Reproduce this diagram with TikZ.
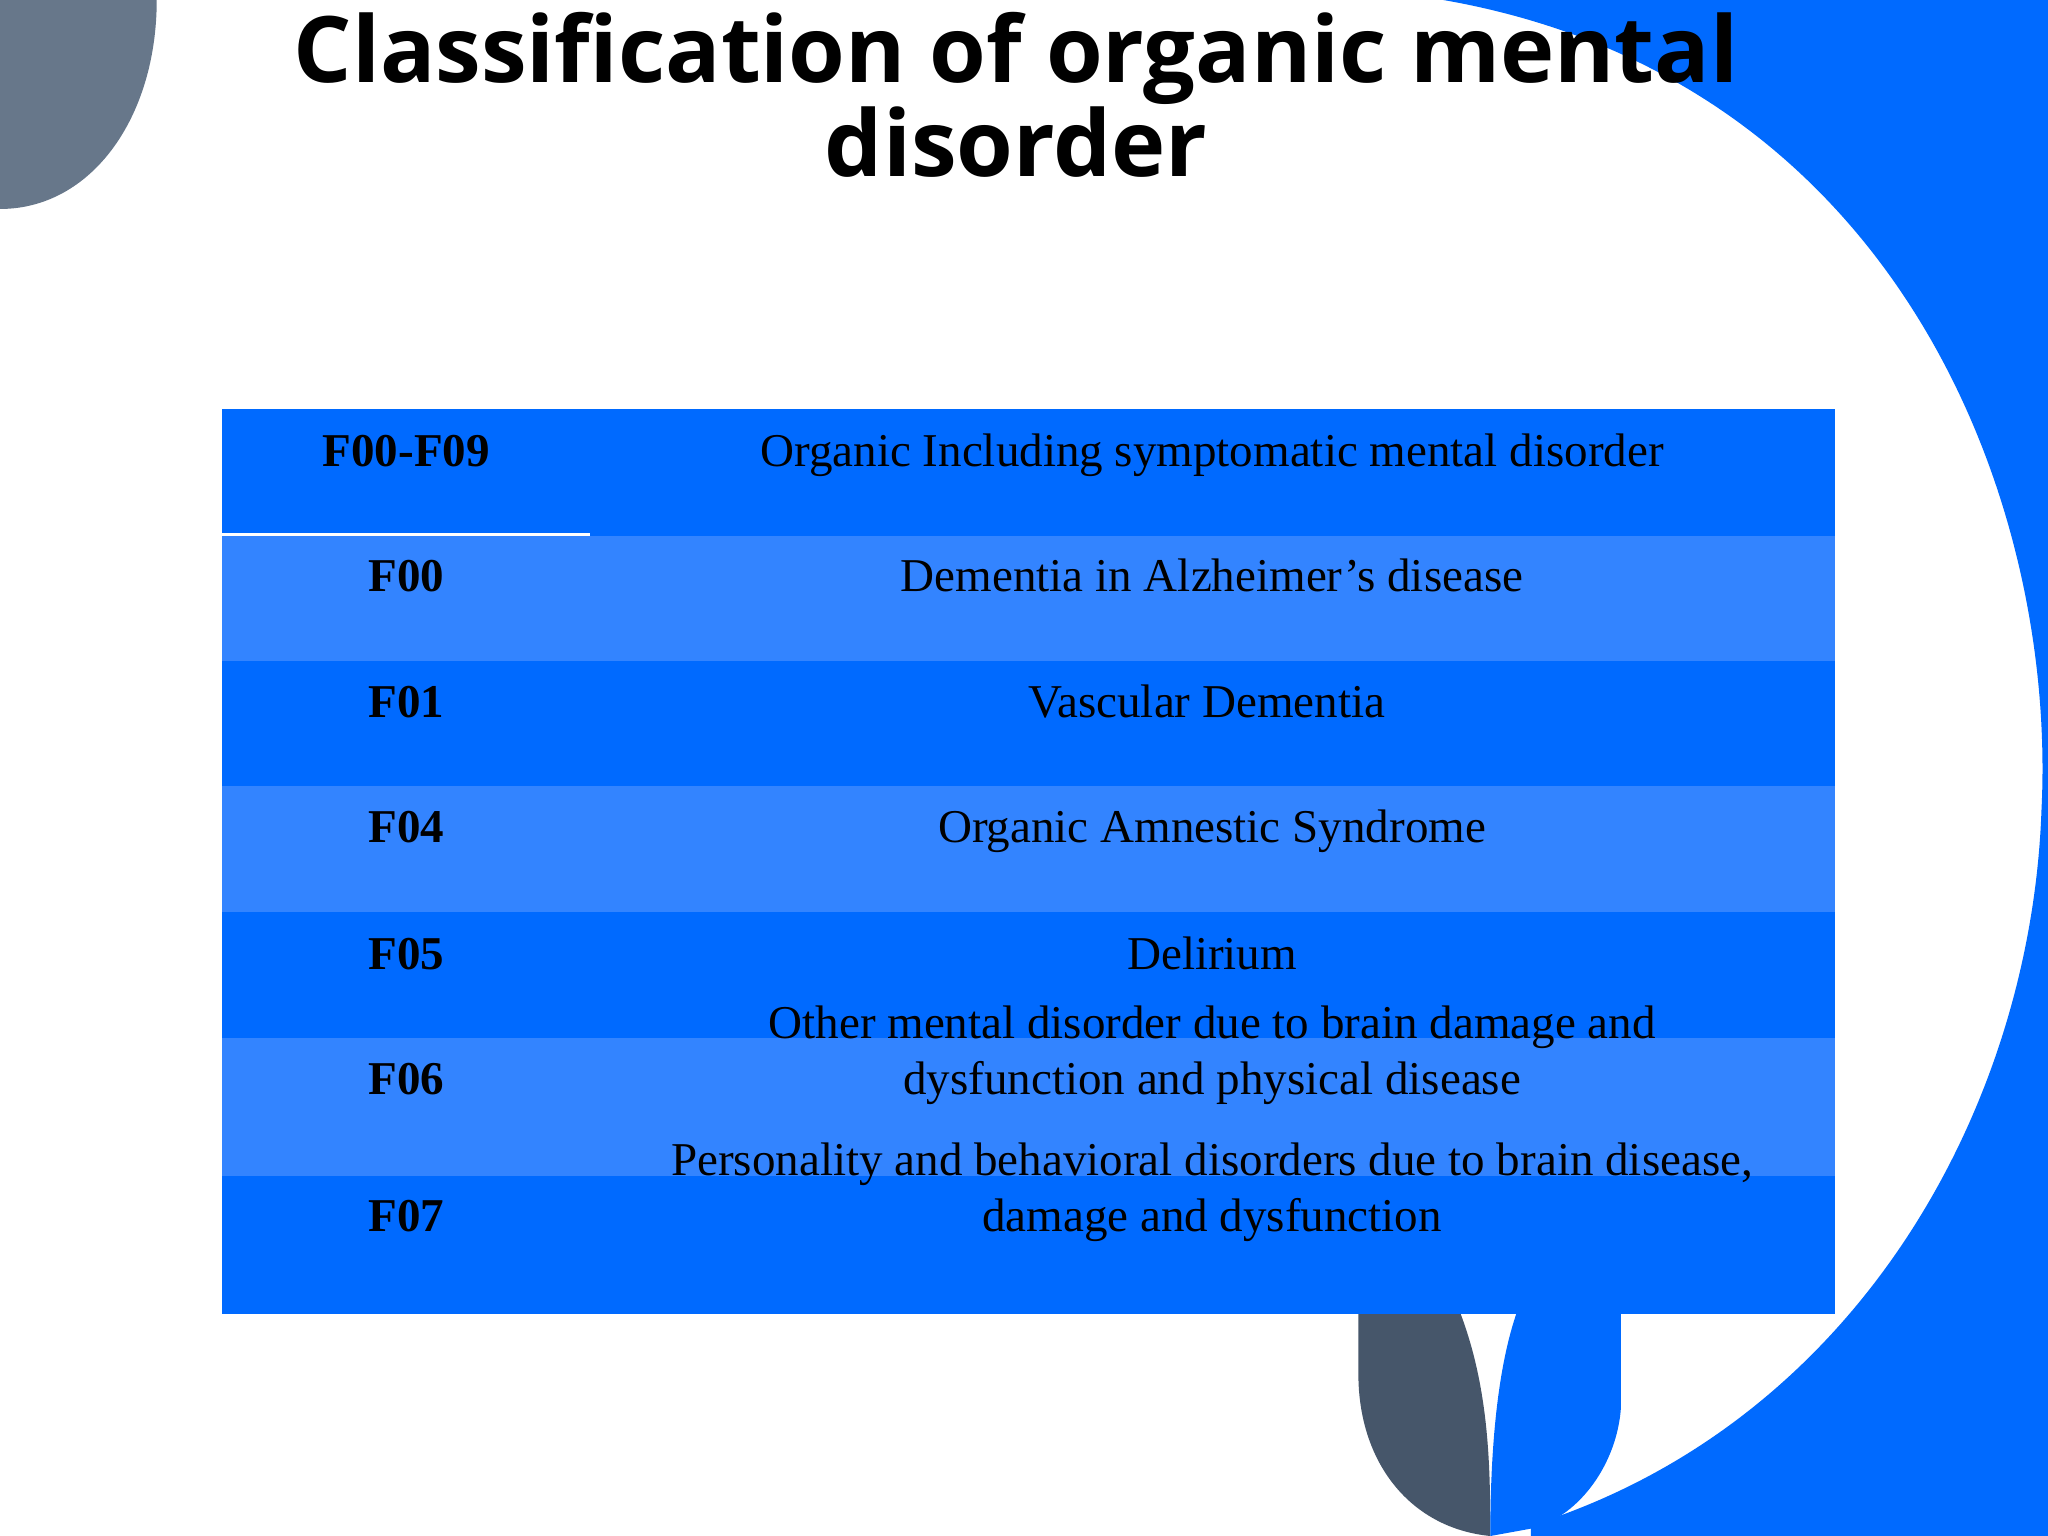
\documentclass[tikz,border=0pt]{standalone}
\usepackage{fontspec}
\setmainfont{Liberation Serif}
\newfontfamily\titlefont{Open Sans}
\definecolor{dblue}{HTML}{006AFF}
\definecolor{lblue}{HTML}{3384FF}
\definecolor{slate}{HTML}{67778A}
\definecolor{dslate}{HTML}{46566A}
\tikzset{cell/.style={anchor=base,align=center,font=\fontsize{20.5pt}{24.5pt}\selectfont,inner sep=0pt},
 codecell/.style={cell,font=\fontsize{20.5pt}{24.5pt}\selectfont\bfseries}}
\begin{document}
\begin{tikzpicture}[x=0.02cm,y=-0.02cm]
\useasboundingbox (0,0) rectangle (1568,1176);
\fill[white] (0,0) rectangle (1568,1176);
\fill[slate] (0,0) -- (120,0) .. controls (120,90) and (70,160) .. (0,160) -- cycle;
\fill[dblue] (1105,0) -- (1568,0) -- (1568,1176) -- (1172,1176) -- (1172,1168)
  .. controls (1420,1090) and (1555,850) .. (1563,620)
  .. controls (1575,380) and (1450,60) .. (1105,0) -- cycle;
\fill[dslate] (1040,1000) -- (1116,1000) .. controls (1140,1060) and (1141,1120) .. (1141,1176)
  .. controls (1080,1170) and (1040,1120) .. (1040,1052) -- cycle;
\fill[dblue] (1163,1000) -- (1241,1000) -- (1241,1078) .. controls (1238,1120) and (1210,1160) .. (1174,1170)
  -- (1141,1176) .. controls (1141,1100) and (1148,1040) .. (1163,1000) -- cycle;
\node[font=\titlefont\bfseries\fontsize{40pt}{37pt}\selectfont,align=center,anchor=base,inner sep=0pt] (title) at (778,135) {Classification of organic mental\\disorder};
\foreach \i/\t/\c in {0/313/dblue,1/410/lblue,2/506/dblue,3/602/lblue,4/698/dblue,5/795/lblue,6/900/dblue}{
  \fill[\c] (170,\t) rectangle (1405,\t+106);
}
\fill[dblue] (170,900) rectangle (1405,1005);
\draw[white,line width=1.2pt] (170,409) -- (452,409);
\node[codecell] (c0) at (311,357) {F00-F09};
\node[cell] (d0) at (928,357) {Organic Including symptomatic mental disorder};
\node[codecell] (c1) at (311,453) {F00};
\node[cell] (d1) at (928,453) {Dementia in Alzheimer’s disease};
\node[codecell] (c2) at (311,549) {F01};
\node[cell] (d2) at (924,549) {Vascular Dementia};
\node[codecell] (c3) at (311,645) {F04};
\node[cell] (d3) at (928,645) {Organic Amnestic Syndrome};
\node[codecell] (c4) at (311,742) {F05};
\node[cell] (d4) at (928,742) {Delirium};
\node[codecell] (c5) at (311,838) {F06};
\node[cell,anchor=base] (d5) at (928,838) {Other mental disorder due to brain damage and\\dysfunction and physical disease};
\node[codecell] (c6) at (311,943) {F07};
\node[cell,anchor=base] (d6) at (928,943) {Personality and behavioral disorders due to brain disease,\\damage and dysfunction};
\end{tikzpicture}
\end{document}
